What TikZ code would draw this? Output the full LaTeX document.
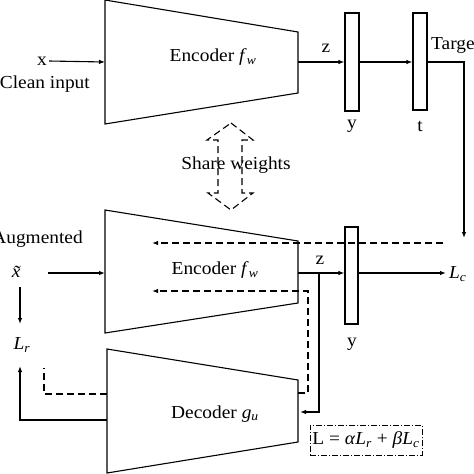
\documentclass[tikz,border=0pt]{standalone}
\usepackage{fontspec}
\setmainfont{Liberation Serif}[FakeStretch=1.06]
\usetikzlibrary{arrows.meta}
\begin{document}
\begin{tikzpicture}[x=1pt,y=-1pt,
  every node/.style={font=\fontsize{18.3}{21}\selectfont, inner sep=0pt},
  ln/.style={line width=1.1pt},
  arr/.style={ln,-{Latex[length=6pt,width=4.5pt]}},
  dsh/.style={line width=1.1pt,dash pattern=on 7pt off 4pt},
  darr/.style={dsh,-{Latex[length=6pt,width=4.5pt]}},
  trap/.style={ln, line join=miter}]
\useasboundingbox (0,0) rectangle (474,474);
\begin{scope}
\clip (0,0) rectangle (474,474);
% top encoder
\draw[trap] (105,0) -- (298,32) -- (298,93) -- (105,124) -- cycle;
\node (enc1) at (213,57) {Encoder \textit{f}\textsubscript{\textit{w}}};
\node (x) at (42,61) {x};
\node[anchor=east] (clean) at (90,84) {Clean input};
\coordinate (e1in) at (105,62);
\coordinate (e1out) at (298,62);
\draw[arr] (x.east) ++(2,0) -- (e1in);
\node (z1) at (326,48) {z};
\node[draw,ln,minimum width=14pt,minimum height=98pt] (y1) at (352,62) {};
\node (y1l) at (352,126) {y};
\draw[arr] (e1out) -- (y1.west);
\node[draw,ln,minimum width=14pt,minimum height=97pt] (t1) at (420,61.5) {};
\node (t1l) at (420,126) {t};
\draw[arr] (y1.east) -- (t1.west |- y1.east);
\node[anchor=west] (target) at (431,45) {Target};
\coordinate (tc) at (464,62);
\coordinate (tend) at (464,238);
\draw[arr] (t1.east |- tc) -- (tc) -- (tend);
% share weights
\draw[dsh, line join=miter] (231,123) -- (253,140) -- (242,140) -- (242,193) -- (253,193) -- (231,210) -- (208,193) -- (218,193) -- (218,140) -- (207,140) -- cycle;
\node (share) at (236,165) {Share weights};
% bottom encoder
\draw[trap] (105,210) -- (298,241) -- (298,303) -- (105,333) -- cycle;
\node (enc2) at (215,270) {Encoder \textit{f}\textsubscript{\textit{w}}};
\node[anchor=east] (aug) at (83,239) {Augmented};
\node (xt) at (20,272) {\textit{\~{x}}};
\coordinate (e2in) at (105,273);
\coordinate (e2out) at (298,273);
\draw[arr] (48,273) -- (e2in);
\node (lr) at (22,345) {\textit{L}\textsubscript{\textit{r}}};
\draw[arr] (20,287) -- (20,324);
% decoder
\draw[trap] (107,349) -- (298,380) -- (298,442) -- (107,473) -- cycle;
\node (dec) at (215,414) {Decoder \textit{g}\textsubscript{\textit{u}}};
\coordinate (dl1) at (107,420);
\coordinate (dl2) at (107,394);
\draw[arr] (dl1) -- (20,420) -- (20,366);
\draw[dsh] (dl2) -- (44,394) -- (44,368);
% bottom y
\node[draw,ln,minimum width=13pt,minimum height=97pt] (y2) at (351.5,275.5) {};
\node (y2l) at (352,344) {y};
\node (z2) at (320,260) {z};
\coordinate (br) at (319,273);
\draw[arr] (e2out) -- (y2.west |- e2out);
\draw[arr] (br) -- (319,412) -- (300,412);
\node[anchor=west] (lc) at (449,274) {\textit{L}\textsubscript{\textit{c}}};
\draw[arr] (y2.east |- e2out) -- (446,273);
% dashed backprop
\draw[darr] (443,243) -- (152,243);
\draw[darr] (298,393) -- (308,393) -- (308,291) -- (152,291);
% loss box
\node[draw,line width=1pt,dash pattern=on 6pt off 2pt on 1pt off 2pt,minimum width=112pt,minimum height=30pt] (loss) at (366,440) {L = \textit{α}\textit{L}\textsubscript{\textit{r}} + \textit{β}\textit{L}\textsubscript{\textit{c}}};
\end{scope}
\end{tikzpicture}
\end{document}
